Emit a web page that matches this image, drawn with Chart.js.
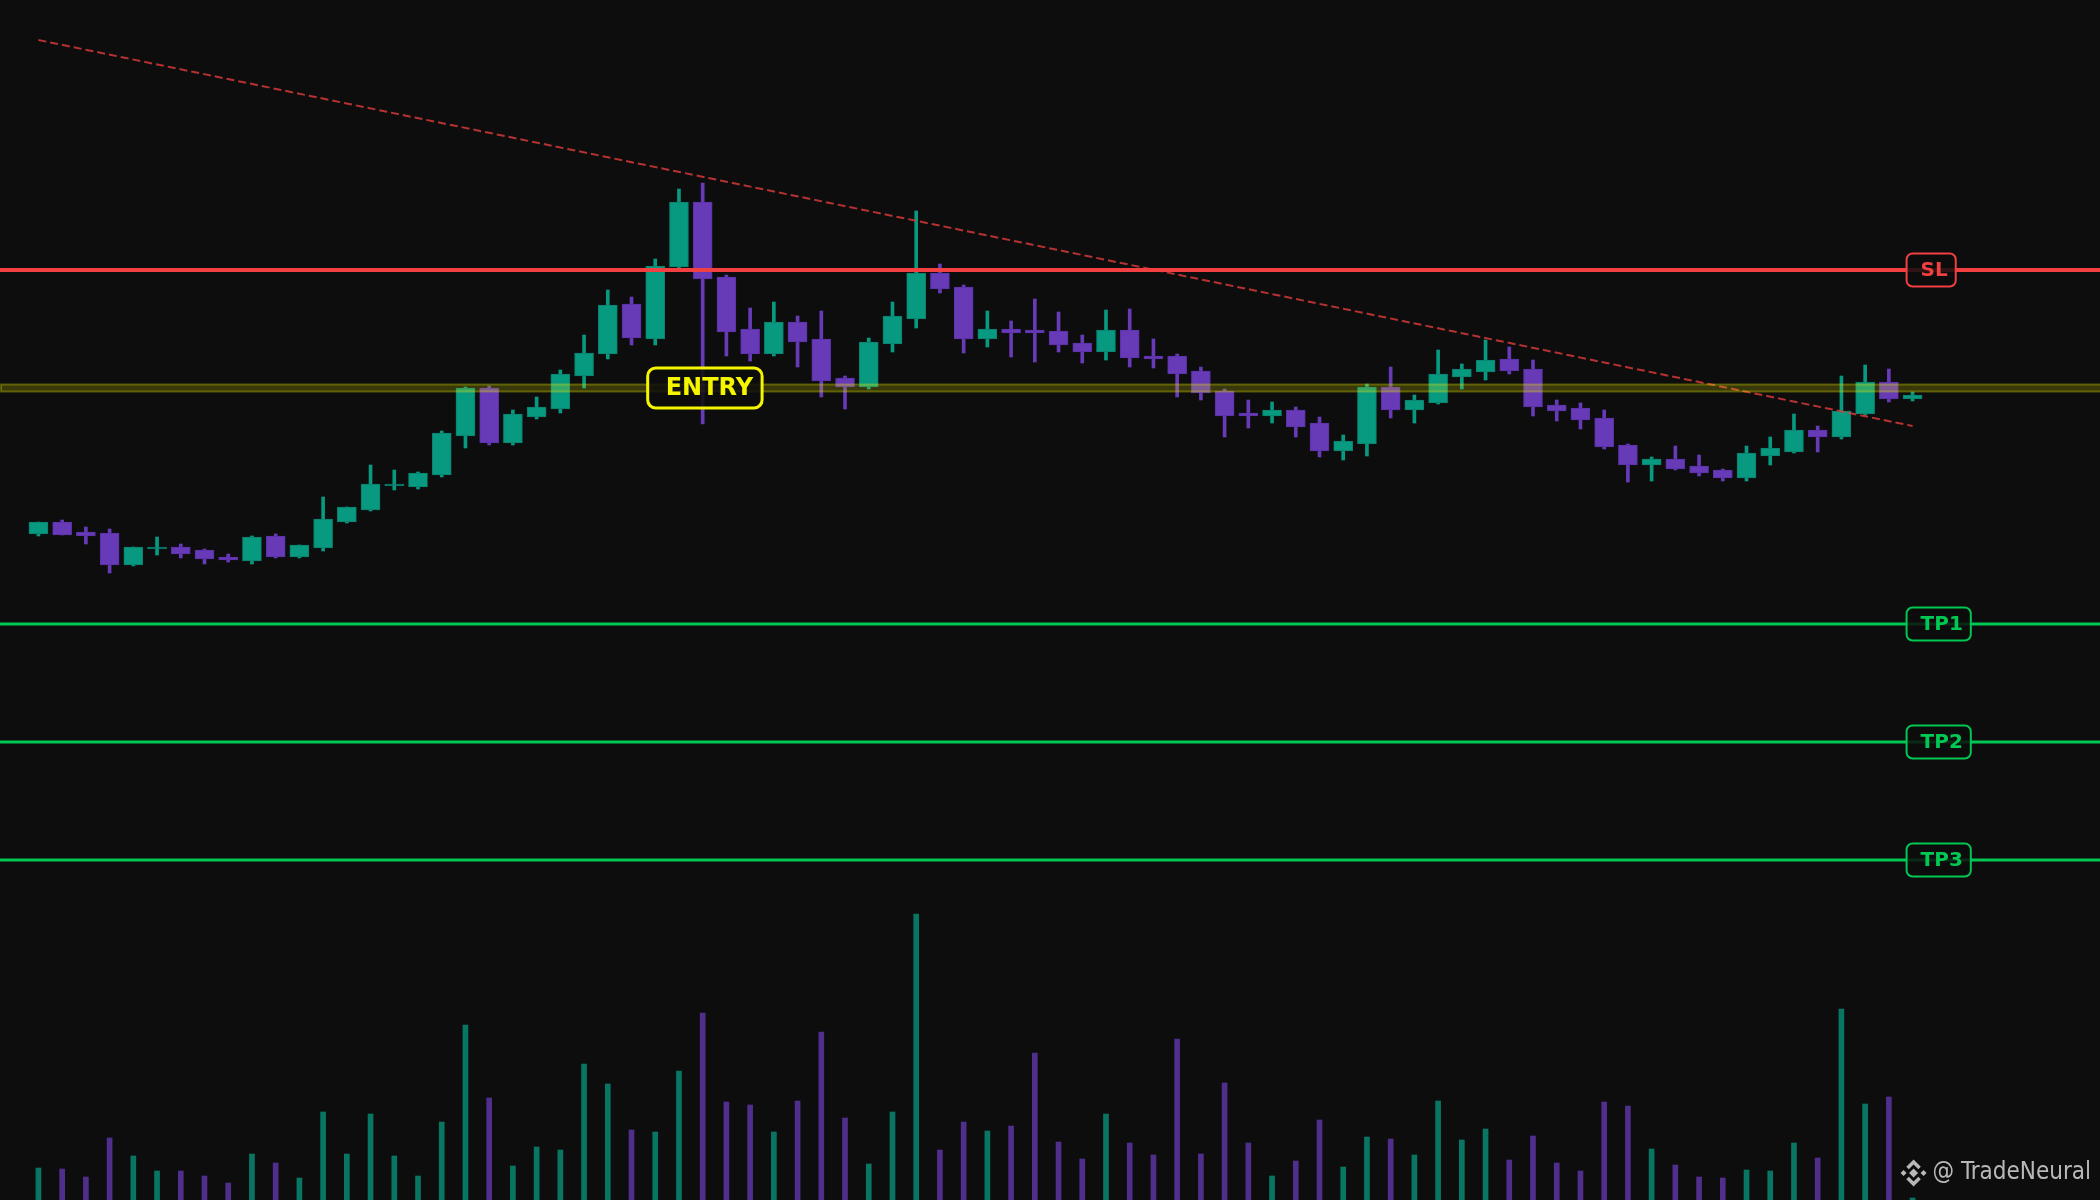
<!DOCTYPE html>
<html>
<head>
<meta charset="utf-8">
<script src="https://cdn.jsdelivr.net/npm/chart.js@4.4.1/dist/chart.umd.min.js"></script>
<style>
    html, body { margin: 0; padding: 0; background: #0d0d0d; }
    #wrap { width: 2100px; height: 1200px; }
</style>
</head>
<body>
<div id="wrap"><canvas id="chart" width="2100" height="1200"></canvas></div>
<script>
// candles (one per bar)
var opens = [2.304, 2.316, 2.306, 2.305, 2.273, 2.289, 2.291, 2.288, 2.281, 2.277,
    2.302, 2.281, 2.290, 2.316, 2.328, 2.352, 2.351, 2.363, 2.402, 2.450,
    2.395, 2.421, 2.429, 2.462, 2.484, 2.534, 2.499, 2.571, 2.636, 2.561,
    2.509, 2.484, 2.516, 2.499, 2.460, 2.451, 2.494, 2.519, 2.565, 2.551,
    2.499, 2.509, 2.508, 2.507, 2.495, 2.486, 2.508, 2.482, 2.482, 2.467,
    2.447, 2.425, 2.422, 2.428, 2.415, 2.387, 2.394, 2.451, 2.428, 2.435,
    2.461, 2.466, 2.479, 2.469, 2.433, 2.430, 2.420, 2.393, 2.373, 2.379,
    2.372, 2.368, 2.360, 2.382, 2.386, 2.408, 2.401, 2.424, 2.456, 2.439];
var highs = [2.316, 2.318, 2.311, 2.309, 2.291, 2.301, 2.294, 2.289, 2.284, 2.302,
    2.304, 2.293, 2.341, 2.331, 2.373, 2.368, 2.366, 2.407, 2.451, 2.452,
    2.428, 2.441, 2.468, 2.503, 2.548, 2.541, 2.579, 2.649, 2.655, 2.563,
    2.530, 2.536, 2.522, 2.527, 2.462, 2.500, 2.536, 2.627, 2.574, 2.553,
    2.527, 2.517, 2.539, 2.526, 2.503, 2.528, 2.529, 2.499, 2.484, 2.471,
    2.449, 2.438, 2.436, 2.431, 2.421, 2.403, 2.454, 2.471, 2.443, 2.488,
    2.474, 2.498, 2.491, 2.478, 2.438, 2.435, 2.428, 2.394, 2.381, 2.392,
    2.383, 2.369, 2.392, 2.401, 2.424, 2.412, 2.462, 2.473, 2.469, 2.446];
var lows = [2.302, 2.303, 2.294, 2.265, 2.272, 2.283, 2.280, 2.274, 2.276, 2.274,
    2.280, 2.280, 2.287, 2.315, 2.327, 2.348, 2.349, 2.361, 2.390, 2.393,
    2.393, 2.419, 2.425, 2.450, 2.479, 2.493, 2.493, 2.569, 2.414, 2.482,
    2.477, 2.482, 2.471, 2.441, 2.429, 2.449, 2.486, 2.510, 2.545, 2.485,
    2.491, 2.481, 2.476, 2.486, 2.475, 2.478, 2.471, 2.470, 2.441, 2.438,
    2.401, 2.410, 2.415, 2.401, 2.381, 2.378, 2.382, 2.420, 2.415, 2.434,
    2.449, 2.458, 2.464, 2.422, 2.417, 2.409, 2.389, 2.356, 2.357, 2.368,
    2.362, 2.357, 2.357, 2.373, 2.385, 2.386, 2.399, 2.423, 2.436, 2.437];
var closes = [2.316, 2.303, 2.302, 2.273, 2.291, 2.291, 2.284, 2.279, 2.278, 2.301,
    2.281, 2.293, 2.319, 2.331, 2.354, 2.354, 2.365, 2.405, 2.450, 2.395,
    2.424, 2.431, 2.464, 2.485, 2.533, 2.500, 2.572, 2.636, 2.559, 2.506,
    2.484, 2.516, 2.496, 2.457, 2.451, 2.496, 2.522, 2.565, 2.549, 2.499,
    2.509, 2.505, 2.505, 2.493, 2.486, 2.508, 2.480, 2.479, 2.464, 2.445,
    2.422, 2.422, 2.428, 2.411, 2.387, 2.397, 2.451, 2.428, 2.438, 2.464,
    2.469, 2.478, 2.467, 2.431, 2.427, 2.418, 2.391, 2.373, 2.379, 2.369,
    2.365, 2.360, 2.385, 2.390, 2.408, 2.401, 2.427, 2.456, 2.439, 2.443];
var volumes = [320, 310, 230, 620, 440, 290, 290, 240, 170, 460,
    370, 220, 880, 460, 860, 440, 240, 780, 1750, 1020,
    340, 530, 500, 1360, 1160, 700, 680, 1290, 1870, 980,
    950, 680, 990, 1680, 820, 360, 880, 2860, 500, 780,
    690, 740, 1470, 580, 410, 860, 570, 450, 1610, 460,
    1170, 570, 240, 390, 800, 330, 630, 610, 450, 990,
    600, 710, 400, 640, 370, 290, 980, 940, 510, 350,
    230, 220, 300, 290, 570, 420, 1910, 960, 1030, 20];

// trade setup
var entryPrice = 2.450;
var entryIndex = 28;
var levelNames = ['SL', 'TP1', 'TP2', 'TP3'];
var levelPrices = [2.568, 2.214, 2.096, 1.978];
var trendIdx = [0, 79];
var trendPrice = [2.798, 2.412];

var UP = '#089981', DOWN = '#673ab7';
var UP_EDGE = '#0b7f6c', DOWN_EDGE = '#5a30a6';
var RED = '#f23f42', GREEN = '#00c853', YELLOW = '#f5f500';

function isUp(i) {
    return closes[i] >= opens[i];
}

function drawTag(ctx, text, left, cy, color, font, padL, padR, h, lw, r) {
    ctx.font = font;
    var w = ctx.measureText(text).width + padL + padR;
    ctx.beginPath();
    ctx.roundRect(left, cy - h / 2, w, h, r);
    ctx.fillStyle = 'rgba(13,13,13,0.85)';
    ctx.fill();
    ctx.lineWidth = lw;
    ctx.strokeStyle = color;
    ctx.stroke();
    ctx.fillStyle = color;
    ctx.textAlign = 'left';
    ctx.textBaseline = 'middle';
    ctx.fillText(text, left + padL, cy + 1);
}

function diamond(ctx, cx, cy, r) {
    ctx.beginPath();
    ctx.moveTo(cx, cy - r);
    ctx.lineTo(cx + r, cy);
    ctx.lineTo(cx, cy + r);
    ctx.lineTo(cx - r, cy);
    ctx.closePath();
    ctx.fill();
}

var setupPlugin = {
    id: 'setup',
    beforeDraw: function (chart) {
        var ctx = chart.ctx;
        ctx.save();
        ctx.fillStyle = '#0d0d0d';
        ctx.fillRect(0, 0, chart.width, chart.height);
        ctx.restore();
    },
    afterDatasetsDraw: function (chart) {
        var ctx = chart.ctx, area = chart.chartArea;
        var xs = chart.scales.x, ys = chart.scales.y;
        ctx.save();

        // entry zone
        var top = ys.getPixelForValue(entryPrice + 0.0035);
        var bot = ys.getPixelForValue(entryPrice - 0.0035);
        ctx.fillStyle = 'rgba(230,230,0,0.2)';
        ctx.fillRect(area.left + 1, top, area.right - area.left, bot - top);
        ctx.strokeStyle = 'rgba(230,230,0,0.32)';
        ctx.lineWidth = 2;
        ctx.strokeRect(area.left + 1, top, area.right - area.left + 4, bot - top);

        // SL / TP lines
        var tagLeft = xs.getPixelForValue(trendIdx[1]) - 6;
        levelNames.forEach(function (name, i) {
            var py = ys.getPixelForValue(levelPrices[i]);
            var col = name == 'SL' ? RED : GREEN;
            ctx.beginPath();
            ctx.moveTo(area.left, py);
            ctx.lineTo(area.right, py);
            ctx.lineWidth = name == 'SL' ? 4 : 3;
            ctx.strokeStyle = col;
            ctx.stroke();
            drawTag(ctx, name, tagLeft, py, col, 'bold 20px "DejaVu Sans"', 14, 8, 33, 2, 6);
        });

        // entry tag
        var ey = ys.getPixelForValue(entryPrice);
        drawTag(ctx, 'ENTRY', xs.getPixelForValue(entryIndex) - 55, ey, YELLOW,
            'bold 24px "DejaVu Sans"', 18, 9, 40, 3, 8);

        // watermark
        ctx.font = '24px "DejaVu Sans Condensed", "DejaVu Sans"';
        ctx.textAlign = 'right';
        ctx.textBaseline = 'middle';
        ctx.fillStyle = 'rgba(215,215,215,0.85)';
        var wy = chart.height - 27;
        ctx.fillText('@ TradeNeural', chart.width - 9, wy);
        var lx = chart.width - 9 - ctx.measureText('@ TradeNeural').width - 19;
        diamond(ctx, lx, wy, 4.5);
        diamond(ctx, lx - 10, wy, 3);
        diamond(ctx, lx + 10, wy, 3);
        ctx.strokeStyle = 'rgba(215,215,215,0.85)';
        ctx.lineWidth = 3.5;
        ctx.beginPath();
        ctx.moveTo(lx - 6, wy - 5);
        ctx.lineTo(lx, wy - 11);
        ctx.lineTo(lx + 6, wy - 5);
        ctx.moveTo(lx - 6, wy + 5);
        ctx.lineTo(lx, wy + 11);
        ctx.lineTo(lx + 6, wy + 5);
        ctx.stroke();

        ctx.restore();
    }
};

var bodyData = opens.map(function (o, i) { return { x: i, y: [o, closes[i]] }; });
var wickData = lows.map(function (l, i) { return { x: i, y: [l, highs[i]] }; });
var volData = volumes.map(function (v, i) { return { x: i, y: v }; });
var trendData = trendIdx.map(function (t, i) { return { x: t, y: trendPrice[i] }; });

new Chart(document.getElementById('chart'), {
    type: 'bar',
    data: {
        datasets: [
            {
                type: 'line',
                data: trendData,
                borderColor: 'rgba(225,60,60,0.8)',
                borderWidth: 2,
                borderDash: [8, 4],
                pointRadius: 0,
                fill: false,
                order: 0
            },
            {
                data: bodyData,
                backgroundColor: function (c) { return isUp(c.dataIndex) ? UP : DOWN; },
                borderColor: function (c) { return isUp(c.dataIndex) ? UP_EDGE : DOWN_EDGE; },
                borderWidth: 1,
                borderSkipped: false,
                barThickness: 19,
                grouped: false,
                order: 1
            },
            {
                data: wickData,
                backgroundColor: function (c) { return isUp(c.dataIndex) ? UP : DOWN; },
                borderWidth: 0,
                barThickness: 3,
                grouped: false,
                order: 2
            },
            {
                data: volData,
                yAxisID: 'yv',
                backgroundColor: function (c) {
                    return isUp(c.dataIndex) ? 'rgba(8,153,129,0.75)' : 'rgba(103,58,183,0.75)';
                },
                borderWidth: 0,
                barThickness: 5,
                grouped: false,
                order: 3
            }
        ]
    },
    options: {
        responsive: false,
        devicePixelRatio: 1,
        animation: false,
        layout: { padding: 0 },
        plugins: {
            legend: { display: false },
            tooltip: { enabled: false }
        },
        scales: {
            x: { type: 'linear', min: -1.62, max: 86.9, offset: false, display: false },
            y: { type: 'linear', min: 1.638, max: 2.838, display: false },
            yv: { type: 'linear', position: 'right', min: 0, max: 12000, display: false }
        }
    },
    plugins: [setupPlugin]
});
</script>
</body>
</html>
